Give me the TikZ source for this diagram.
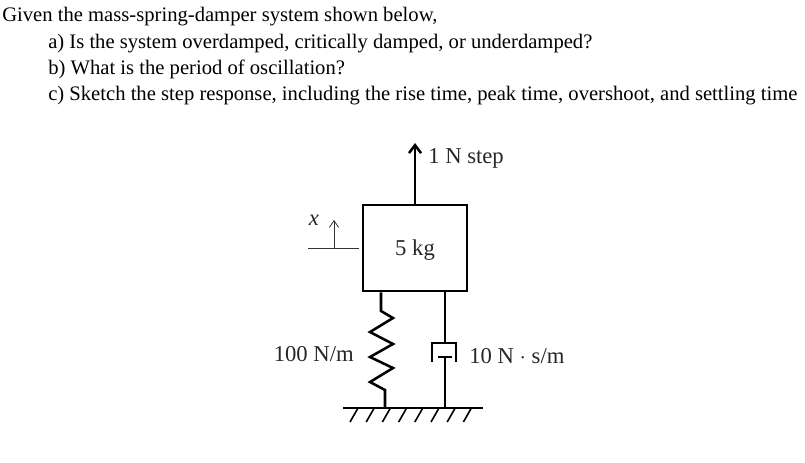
\documentclass[tikz,border=0pt]{standalone}
\usepackage{fontspec}
\setmainfont{Liberation Serif}
\newfontfamily\labelfont{Liberation Serif}
\usetikzlibrary{arrows.meta}
\usetikzlibrary{positioning}
\tikzset{prompt/.style = {anchor = west, inner sep = 0, font = \fontsize{15.47}{18}\selectfont}}
\tikzset{dim/.style = {inner sep = 0, font = \labelfont\fontsize{17}{18}\selectfont, text = black!85}}
\tikzset{part/.style = {line width = 1.9pt, line join = miter}}
\tikzset{thin line/.style = {line width = 0.6pt, black!80}}
\begin{document}
\begin{tikzpicture}[x = 0.75pt, y = -0.75pt]
      \useasboundingbox (0, 0) rectangle (805, 462);

      \node [prompt] (given) at (2, 17) {Given the mass-spring-damper system shown below,};
      \node [prompt] (parta) at (48, 44) {a) Is the system overdamped, critically damped, or underdamped?};
      \node [prompt] (partb) at (48, 69) {b) What is the period of oscillation?};
      \node [prompt] (partc) at (48, 95.5) {c) Sketch the step response, including the rise time, peak time, overshoot, and settling time};

      \node [draw, part, minimum width = 78pt, minimum height = 64.5pt] (mass) at (415, 248) {};
      \node [dim] (load) at (415, 250) {5 kg};

      \coordinate (tip) at (415, 143);
      \draw [part, -{Straight Barb[length = 6pt, width = 9pt]}] (mass.north) -- (tip);
      \node [dim, anchor = west] (force) at (428, 158) {1 N step};

      \coordinate (lineL) at (308, 248);
      \coordinate (lineR) at (359, 248);
      \coordinate (lineM) at (334, 248);
      \coordinate (lineT) at (334, 220);
      \draw [thin line] (lineL) -- (lineR);
      \draw [thin line, -{Straight Barb[length = 5pt, width = 7pt]}] (lineM) -- (lineT);
      \node [dim] (disp) at (314, 220) {\textit{x}};

      % spring
      \coordinate (springT) at (mass.south -| 381, 0);
      \coordinate (floorS) at (385, 408);
      \draw [part] (springT) -- (381, 311) -- (393, 318) -- (370, 332) -- (393, 344)
        -- (370, 357) -- (393, 368) -- (370, 382) -- (385, 390) -- (floorS);
      \node [dim, anchor = east] (stiff) at (354, 354) {100 N/m};

      % damper
      \coordinate (damperT) at (445, 291);
      \coordinate (cup) at (445, 343);
      \coordinate (piston) at (445, 357);
      \coordinate (floorD) at (445, 408);
      \draw [part] (damperT) -- (cup);
      \draw [part] (432, 362) -- (432, 343) -- (456, 343) -- (456, 362);
      \draw [part] (438, 357) -- (452, 357);
      \draw [part] (piston) -- (floorD);
      \node [dim, anchor = west] (damp) at (469, 356) {10 N $\cdot$ s/m};

      % ground
      \coordinate (floorL) at (343, 408);
      \coordinate (floorR) at (483, 408);
      \draw [part] (floorL) -- (floorR);
      \foreach \i in {0, ..., 7}
        \draw [line width = 1.2pt] (358 + 16.2 * \i, 408) -- (350 + 16.2 * \i, 422);
    \end{tikzpicture}
\end{document}
